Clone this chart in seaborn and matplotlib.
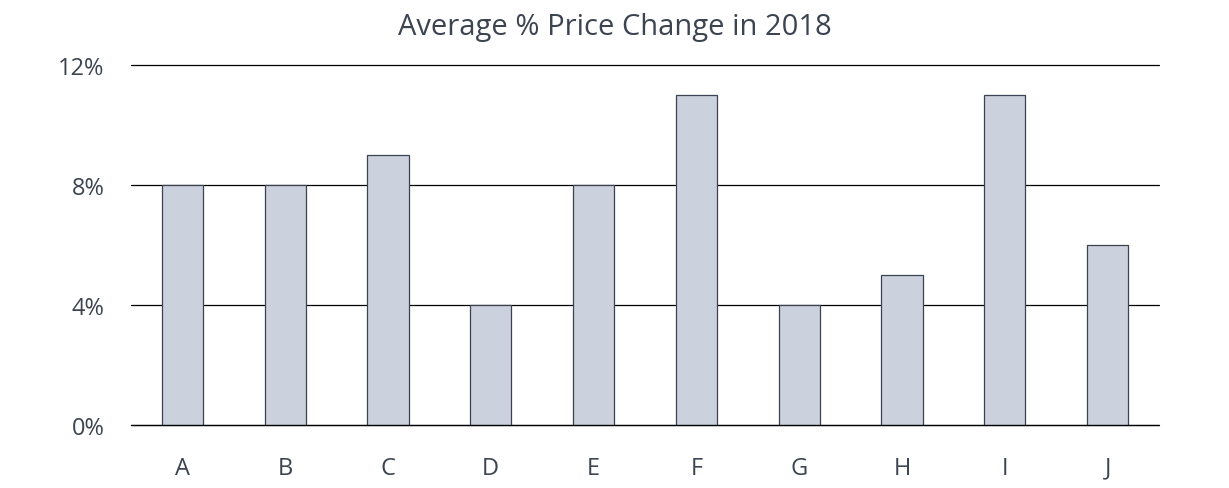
import seaborn as sns
import matplotlib.pyplot as plt
import pandas as pd

categories = ["A", "B", "C", "D", "E", "F", "G", "H", "I", "J"]
values = [8, 8, 9, 4, 8, 11, 4, 5, 11, 6]

df = pd.DataFrame({"cat": categories, "val": values})

sns.set_theme(style="white")
plt.rcParams["font.family"] = ["Open Sans", "DejaVu Sans"]
text_color = "#3d4451"

fig = plt.figure(figsize=(12.29, 4.89), dpi=100)
ax = fig.add_axes([131 / 1229, 1 - 426 / 489, (1159 - 131) / 1229, (426 - 66) / 489])

sns.barplot(data=df, x="cat", y="val", color="#cbd1dd", edgecolor="#3b4352",
            linewidth=0.9, width=0.4, saturation=1, ax=ax, zorder=3)

ax.set_xlim(-0.5, 9.5)
ax.set_ylim(0, 12)
ax.set_yticks([0, 4, 8, 12])
ax.set_yticklabels(["0%", "4%", "8%", "12%"])
ax.yaxis.grid(True, color="black", linewidth=0.9, zorder=0)
ax.set_axisbelow(True)
# baseline sits on top of the bars
ax.axhline(0, color="black", linewidth=0.9, zorder=4, clip_on=False)
for line in ax.get_ygridlines():
    line.set_clip_on(False)
for s in ax.spines.values():
    s.set_visible(False)
ax.set_xlabel("")
ax.set_ylabel("")
ax.tick_params(axis="both", length=0, labelsize=17, colors=text_color)
ax.tick_params(axis="x", pad=22)
ax.tick_params(axis="y", pad=19)
fig.text(0.5, 1 - 28 / 489, "Average % Price Change in 2018", ha="center", va="center",
         fontsize=21, color=text_color)

fig.savefig("out.png", dpi=100)
